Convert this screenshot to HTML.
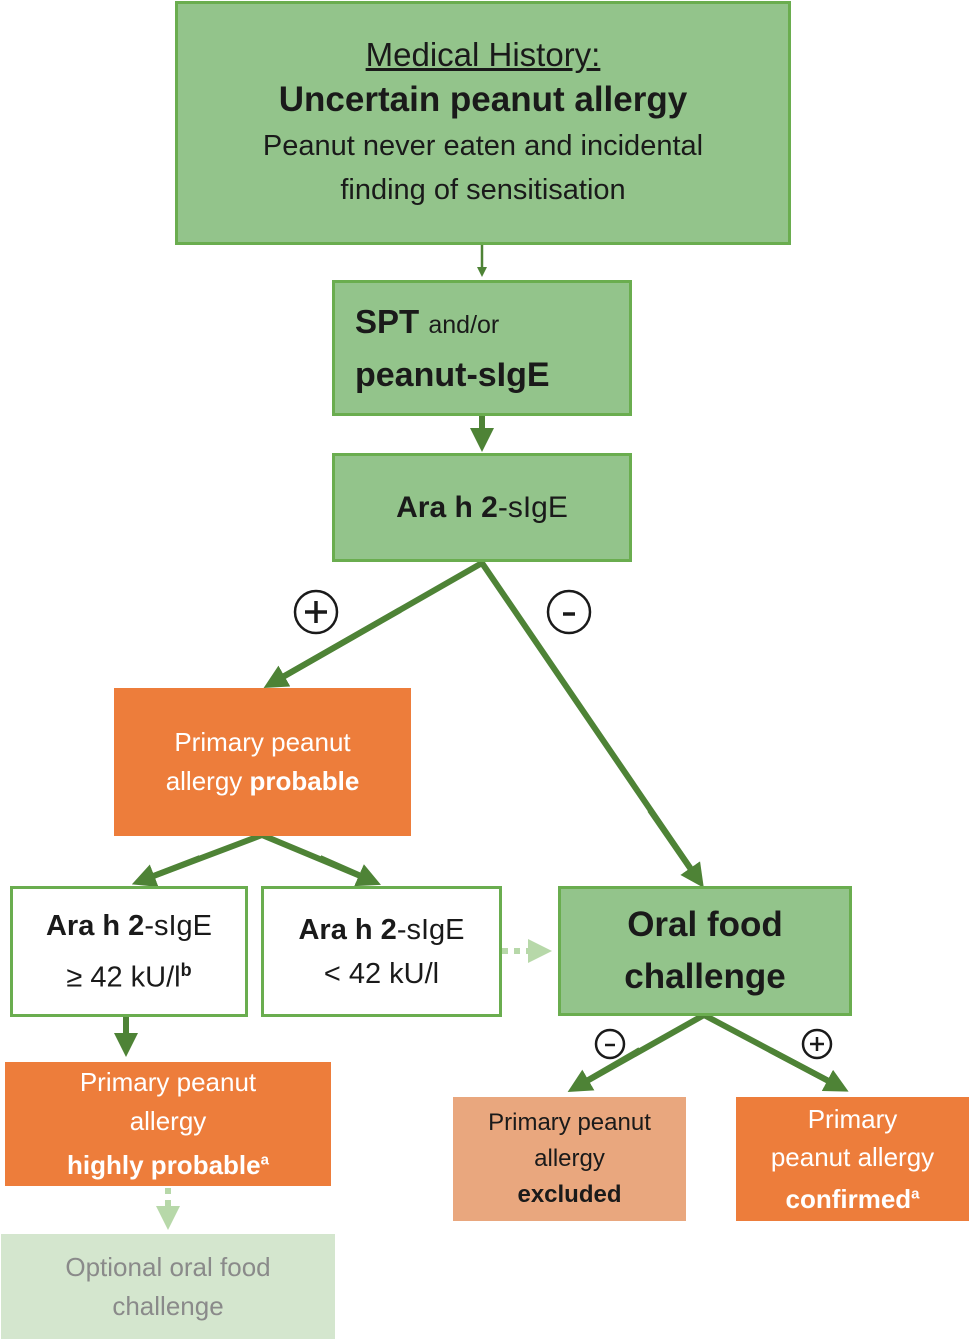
<!DOCTYPE html>
<html><head><meta charset="utf-8"><style>
body{margin:0;width:973px;height:1339px;position:relative;background:#fff;font-family:"Liberation Sans",sans-serif;overflow:hidden}
.b{position:absolute;box-sizing:border-box;display:flex;flex-direction:column;justify-content:center;align-items:center;text-align:center}
.g{background:#93C48B;border:3px solid #6AAD4F;color:#1a1a1a}
.w{background:#fff;border:3px solid #6AAD4F;color:#1a1a1a}
.o{background:#ED7D3B;color:#fff}
.t{position:absolute;white-space:nowrap}
</style></head><body>
<svg width="973" height="1339" style="position:absolute;left:0;top:0">
<defs>
<marker id="a" markerWidth="4" markerHeight="4" refX="2" refY="2" orient="auto" markerUnits="strokeWidth"><path d="M0,0 L4,2 L0,4z" fill="#4E8336"/></marker>
<marker id="al" markerWidth="4" markerHeight="4" refX="2" refY="2" orient="auto" markerUnits="strokeWidth"><path d="M0,0 L4,2 L0,4z" fill="#B7D8A9"/></marker>
</defs>
<g stroke="#4E8336" fill="none">
<line x1="482" y1="244" x2="482" y2="272" stroke-width="2.5" marker-end="url(#a)"/>
<line x1="482" y1="415" x2="482" y2="440" stroke-width="6" marker-end="url(#a)"/>
<polyline points="274,682 482,563 697,878" stroke-width="6"/>
<line x1="400" y1="610" x2="274" y2="682" stroke-width="6" marker-end="url(#a)"/>
<line x1="650" y1="810" x2="697" y2="878" stroke-width="6" marker-end="url(#a)"/>
<polyline points="143,880 262,835 370,880" stroke-width="6"/>
<line x1="200" y1="858" x2="143" y2="880" stroke-width="6" marker-end="url(#a)"/>
<line x1="320" y1="858" x2="370" y2="880" stroke-width="6" marker-end="url(#a)"/>
<line x1="126" y1="1016" x2="126" y2="1045" stroke-width="6" marker-end="url(#a)"/>
<polyline points="578,1086 704,1015 838,1086" stroke-width="6"/>
<line x1="640" y1="1050" x2="578" y2="1086" stroke-width="6" marker-end="url(#a)"/>
<line x1="770" y1="1050" x2="838" y2="1086" stroke-width="6" marker-end="url(#a)"/>
</g>
<g stroke="#B7D8A9" fill="none" stroke-width="6" stroke-dasharray="6,6">
<line x1="502" y1="951" x2="540" y2="951" marker-end="url(#al)"/>
<line x1="168" y1="1188" x2="168" y2="1218" marker-end="url(#al)"/>
</g>
<g stroke="#1a1a1a" stroke-width="2.5" fill="none">
<circle cx="588" cy="328" r="20"/><path d="M577,328h22M588,317v22" stroke-width="3.5"/>
<circle cx="316" cy="612" r="21"/><path d="M305,612h22M316,601v22" stroke-width="3.5"/>
<circle cx="569" cy="612" r="21"/><path d="M563,614h12" stroke-width="3.5"/>
<circle cx="610" cy="1044" r="14"/><path d="M605,1045h10" stroke-width="2.5"/>
<circle cx="817" cy="1044" r="14"/><path d="M810,1044h14M817,1037v14" stroke-width="2.5"/>
</g>
</svg>
<div class="b g" style="left:175px;top:1px;width:616px;height:244px;line-height:1.3">
<div style="font-size:33px;text-decoration:underline">Medical History:</div>
<div style="font-size:35px;font-weight:bold;margin-bottom:2px">Uncertain peanut allergy</div>
<div style="font-size:29px;line-height:44px">Peanut never eaten and incidental<br>finding of sensitisation</div>
</div>
<div class="b g" style="left:332px;top:280px;width:300px;height:136px;align-items:flex-start;padding-left:20px">
<div style="font-size:33px;font-weight:bold;line-height:50px">SPT <span style="font-weight:normal;font-size:25px">and/or</span></div>
<div style="font-size:34px;font-weight:bold;line-height:50px">peanut-sIgE</div>
</div>
<div class="b g" style="left:332px;top:453px;width:300px;height:109px;font-size:30px"><div><b>Ara h 2</b>-sIgE</div></div>
<div class="b o" style="left:114px;top:688px;width:297px;height:148px;font-size:26px;line-height:39px"><div>Primary peanut<br>allergy <b>probable</b></div></div>
<div class="b w" style="left:10px;top:886px;width:238px;height:131px;font-size:29px;line-height:44px"><div><b>Ara h 2</b>-sIgE<br>≥ 42 kU/l<sup style="font-size:18px;font-weight:bold">b</sup></div></div>
<div class="b w" style="left:261px;top:886px;width:241px;height:131px;font-size:29px;line-height:44px"><div><b>Ara h 2</b>-sIgE<br>&lt; 42 kU/l</div></div>
<div class="b g" style="left:558px;top:886px;width:294px;height:130px;font-size:35px;font-weight:bold;line-height:52px"><div>Oral food<br>challenge</div></div>
<div class="b o" style="left:5px;top:1062px;width:326px;height:124px;font-size:26px;line-height:39px"><div>Primary peanut<br>allergy<br><b>highly probable<sup style="font-size:15px">a</sup></b></div></div>
<div class="b" style="left:1px;top:1234px;width:334px;height:105px;background:#D4E6CE;color:#8a8a8a;font-size:26px;line-height:39px"><div>Optional oral food<br>challenge</div></div>
<div class="b" style="left:453px;top:1097px;width:233px;height:124px;background:#E9A77E;color:#1a1a1a;font-size:24px;line-height:36px"><div>Primary peanut<br>allergy<br><b>excluded</b></div></div>
<div class="b o" style="left:736px;top:1097px;width:233px;height:124px;font-size:26px;line-height:38px"><div>Primary<br>peanut allergy<br><b>confirmed<sup style="font-size:15px">a</sup></b></div></div>
</body></html>
